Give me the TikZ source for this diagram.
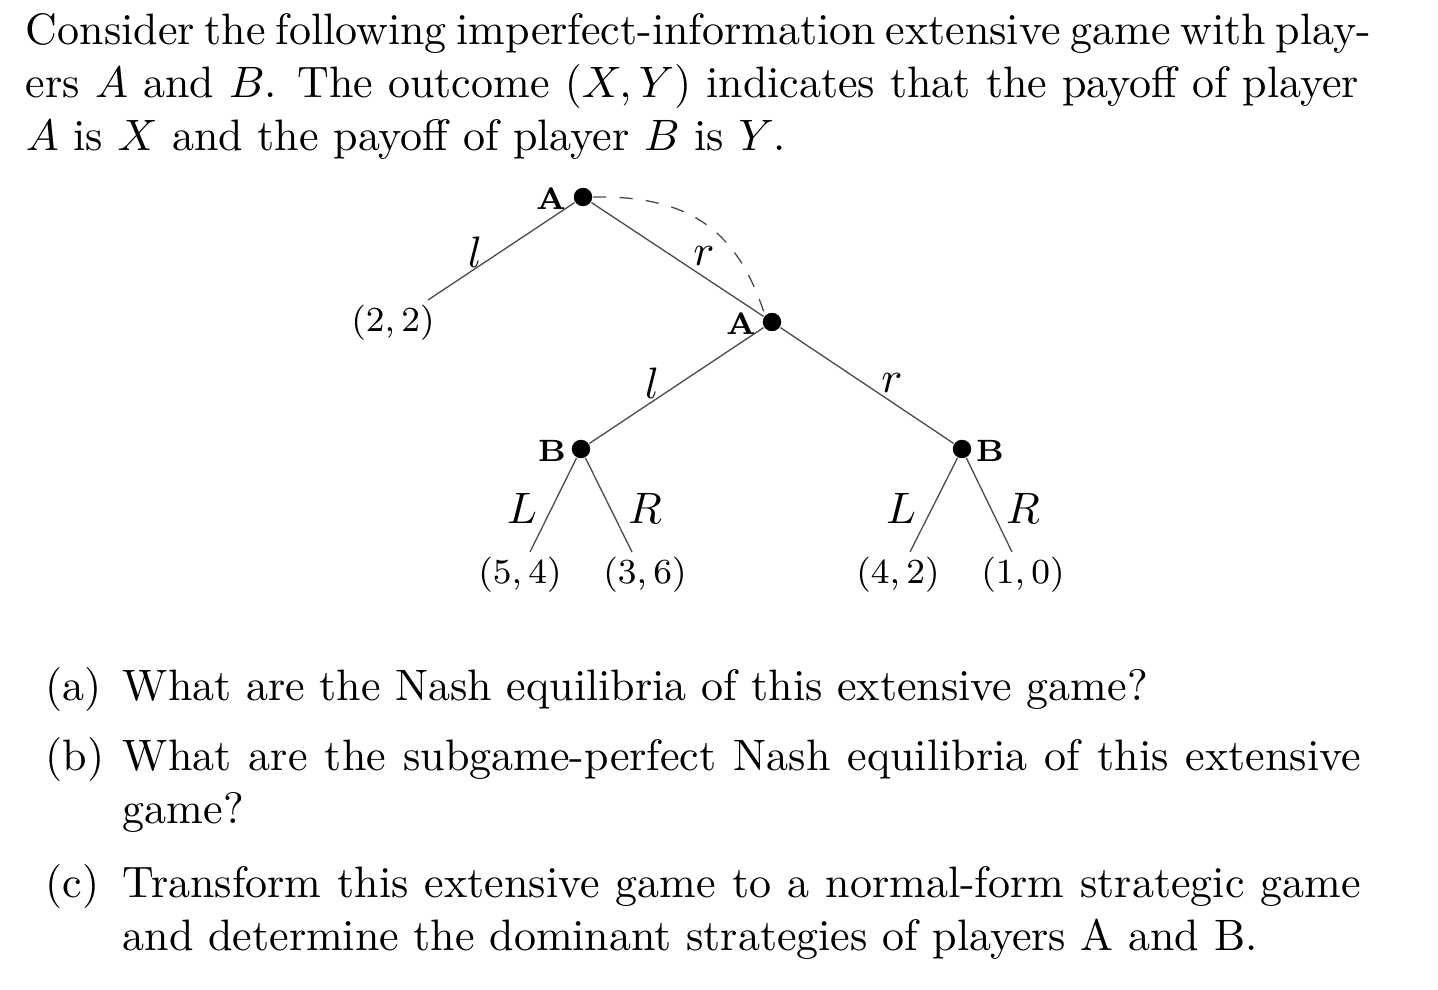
\documentclass[tikz,border=0pt]{standalone}
\begin{document}
\begin{tikzpicture}[x=0.2273pt,y=-0.2273pt,
  edge/.style={draw=black!70,line width=0.3pt},
  dot/.style={circle,fill=black,inner sep=0pt,minimum size=4.2pt},
  pl/.style={font=\scriptsize\bfseries},
  pay/.style={font=\footnotesize},
  lab/.style={font=\normalsize},
  txt/.style={anchor=base west,inner sep=0pt}]
\useasboundingbox (0,0) rectangle (1438,990);
\node[txt] (t1) at (25,45) {\makebox[303.4pt][s]{Consider the following imperfect-information extensive game with play-}};
\node[txt] (t2) at (25,98) {\makebox[303pt][s]{ers $A$ and $B$. The outcome $(X,Y)$ indicates that the payoff of player}};
\node[txt] (t3) at (25,151) {$A$ is $X$ and the payoff of player $B$ is $Y$.};
% tree
\node[dot] (a1) at (583,197) {};
\node[dot] (a2) at (772,322) {};
\node[dot] (b1) at (581,449) {};
\node[dot] (b2) at (962,449) {};
\coordinate (e0) at (428,300);
\coordinate (e1) at (530,552);
\coordinate (e2) at (632,552);
\coordinate (e3) at (910,552);
\coordinate (e4) at (1012,552);
\node[pl] (la1) at (551,199) {A};
\node[pl] (la2) at (741,324) {A};
\node[pl] (lb1) at (552,451) {B};
\node[pl] (lb2) at (990,451) {B};
\draw[edge] (a1) -- (e0);
\draw[edge] (a1) -- (a2);
\draw[edge] (a2) -- (b1);
\draw[edge] (a2) -- (b2);
\draw[edge] (b1) -- (e1);
\draw[edge] (b1) -- (e2);
\draw[edge] (b2) -- (e3);
\draw[edge] (b2) -- (e4);
\draw[dashed,line width=0.3pt,draw=black!70] (a1.east) .. controls (700,195) and (740,240) .. (a2.north west);
\node[lab] (el1) at (475,252) {$l$};
\node[lab] (er1) at (704,256) {$r$};
\node[lab] (el2) at (652,383) {$l$};
\node[lab] (er2) at (892,383) {$r$};
\node[lab] (eL1) at (522,508) {$L$};
\node[lab] (eR1) at (645,508) {$R$};
\node[lab] (eL2) at (901,508) {$L$};
\node[lab] (eR2) at (1023,508) {$R$};
\node[pay] (p0) at (393,323) {$(2,2)$};
\node[pay] (p1) at (520,575) {$(5,4)$};
\node[pay] (p2) at (645,575) {$(3,6)$};
\node[pay] (p3) at (898,575) {$(4,2)$};
\node[pay] (p4) at (1023,575) {$(1,0)$};
% questions
\node[txt] (qa) at (45,700) {(a)};
\node[txt] (qat) at (122,700) {What are the Nash equilibria of this extensive game?};
\node[txt] (qb) at (45,770) {(b)};
\node[txt] (qbt) at (122,770) {\makebox[281.4pt][s]{What are the subgame-perfect Nash equilibria of this extensive}};
\node[txt] (qbt2) at (122,823) {game?};
\node[txt] (qc) at (45,897) {(c)};
\node[txt] (qct) at (122,897) {\makebox[281.4pt][s]{Transform this extensive game to a normal-form strategic game}};
\node[txt] (qct2) at (122,950) {and determine the dominant strategies of players A and B.};
\end{tikzpicture}
\end{document}
